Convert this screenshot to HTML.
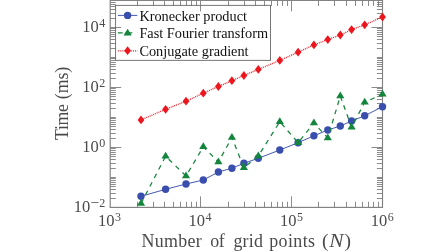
<!DOCTYPE html>
<html><head><meta charset="utf-8"><title>Timing plot</title>
<style>html,body{margin:0;padding:0;background:#fff;overflow:hidden}svg{display:block}</style>
</head><body>
<svg width="448" height="252" viewBox="0 0 448 252">
<rect width="448" height="252" fill="#fff"/>
<path d="M137.5 207.4V201.8M137.5 0.4V6.0M153.5 207.4V201.8M153.5 0.4V6.0M164.5 207.4V201.8M164.5 0.4V6.0M173.5 207.4V201.8M173.5 0.4V6.0M180.5 207.4V201.8M180.5 0.4V6.0M186.5 207.4V201.8M186.5 0.4V6.0M191.5 207.4V201.8M191.5 0.4V6.0M196.5 207.4V201.8M196.5 0.4V6.0M200.5 207.4V196.4M200.5 0.4V11.4M228.5 207.4V201.8M228.5 0.4V6.0M244.5 207.4V201.8M244.5 0.4V6.0M255.5 207.4V201.8M255.5 0.4V6.0M264.5 207.4V201.8M264.5 0.4V6.0M271.5 207.4V201.8M271.5 0.4V6.0M277.5 207.4V201.8M277.5 0.4V6.0M282.5 207.4V201.8M282.5 0.4V6.0M287.5 207.4V201.8M287.5 0.4V6.0M291.5 207.4V196.4M291.5 0.4V11.4M318.5 207.4V201.8M318.5 0.4V6.0M334.5 207.4V201.8M334.5 0.4V6.0M346.5 207.4V201.8M346.5 0.4V6.0M355.5 207.4V201.8M355.5 0.4V6.0M362.5 207.4V201.8M362.5 0.4V6.0M368.5 207.4V201.8M368.5 0.4V6.0M373.5 207.4V201.8M373.5 0.4V6.0M378.5 207.4V201.8M378.5 0.4V6.0M110.2 198.5H115.8M382.5 198.5H376.9M110.2 193.5H115.8M382.5 193.5H376.9M110.2 189.5H115.8M382.5 189.5H376.9M110.2 186.5H115.8M382.5 186.5H376.9M110.2 184.5H115.8M382.5 184.5H376.9M110.2 182.5H115.8M382.5 182.5H376.9M110.2 180.5H115.8M382.5 180.5H376.9M110.2 178.5H115.8M382.5 178.5H376.9M110.2 177.5H115.8M382.5 177.5H376.9M110.2 168.5H115.8M382.5 168.5H376.9M110.2 163.5H115.8M382.5 163.5H376.9M110.2 159.5H115.8M382.5 159.5H376.9M110.2 156.5H115.8M382.5 156.5H376.9M110.2 154.5H115.8M382.5 154.5H376.9M110.2 152.5H115.8M382.5 152.5H376.9M110.2 150.5H115.8M382.5 150.5H376.9M110.2 148.5H115.8M382.5 148.5H376.9M110.2 147.5H121.2M382.5 147.5H371.5M110.2 138.5H115.8M382.5 138.5H376.9M110.2 133.5H115.8M382.5 133.5H376.9M110.2 129.5H115.8M382.5 129.5H376.9M110.2 126.5H115.8M382.5 126.5H376.9M110.2 124.5H115.8M382.5 124.5H376.9M110.2 122.5H115.8M382.5 122.5H376.9M110.2 120.5H115.8M382.5 120.5H376.9M110.2 118.5H115.8M382.5 118.5H376.9M110.2 117.5H115.8M382.5 117.5H376.9M110.2 108.5H115.8M382.5 108.5H376.9M110.2 103.5H115.8M382.5 103.5H376.9M110.2 99.5H115.8M382.5 99.5H376.9M110.2 96.5H115.8M382.5 96.5H376.9M110.2 94.5H115.8M382.5 94.5H376.9M110.2 92.5H115.8M382.5 92.5H376.9M110.2 90.5H115.8M382.5 90.5H376.9M110.2 88.5H115.8M382.5 88.5H376.9M110.2 87.5H121.2M382.5 87.5H371.5M110.2 78.5H115.8M382.5 78.5H376.9M110.2 73.5H115.8M382.5 73.5H376.9M110.2 69.5H115.8M382.5 69.5H376.9M110.2 66.5H115.8M382.5 66.5H376.9M110.2 64.5H115.8M382.5 64.5H376.9M110.2 62.5H115.8M382.5 62.5H376.9M110.2 60.5H115.8M382.5 60.5H376.9M110.2 58.5H115.8M382.5 58.5H376.9M110.2 57.5H115.8M382.5 57.5H376.9M110.2 48.5H115.8M382.5 48.5H376.9M110.2 43.5H115.8M382.5 43.5H376.9M110.2 39.5H115.8M382.5 39.5H376.9M110.2 36.5H115.8M382.5 36.5H376.9M110.2 34.5H115.8M382.5 34.5H376.9M110.2 32.5H115.8M382.5 32.5H376.9M110.2 30.5H115.8M382.5 30.5H376.9M110.2 28.5H115.8M382.5 28.5H376.9M110.2 27.5H121.2M382.5 27.5H371.5M110.2 18.5H115.8M382.5 18.5H376.9M110.2 13.5H115.8M382.5 13.5H376.9M110.2 9.5H115.8M382.5 9.5H376.9M110.2 6.5H115.8M382.5 6.5H376.9M110.2 4.5H115.8M382.5 4.5H376.9M110.2 2.5H115.8M382.5 2.5H376.9" stroke="#646464" stroke-width="0.75" fill="none"/>
<rect x="110.2" y="0.4" width="272.3" height="207.0" fill="none" stroke="#808080" stroke-width="1.15"/>
<polyline points="141.0,196.3 165.6,189.3 186.0,184.0 203.3,180.0 218.4,172.0 231.9,168.2 243.9,163.3 258.3,158.3 279.8,150.0 298.1,142.7 313.9,135.8 327.8,130.0 340.3,126.0 351.6,121.0 364.7,115.7 382.5,106.7" fill="none" stroke="#3a4fad" stroke-width="0.95"/>
<circle cx="141.0" cy="196.3" r="3.7" fill="#3a4fad"/>
<circle cx="165.6" cy="189.3" r="3.7" fill="#3a4fad"/>
<circle cx="186.0" cy="184.0" r="3.7" fill="#3a4fad"/>
<circle cx="203.3" cy="180.0" r="3.7" fill="#3a4fad"/>
<circle cx="218.4" cy="172.0" r="3.7" fill="#3a4fad"/>
<circle cx="231.9" cy="168.2" r="3.7" fill="#3a4fad"/>
<circle cx="243.9" cy="163.3" r="3.7" fill="#3a4fad"/>
<circle cx="258.3" cy="158.3" r="3.7" fill="#3a4fad"/>
<circle cx="279.8" cy="150.0" r="3.7" fill="#3a4fad"/>
<circle cx="298.1" cy="142.7" r="3.7" fill="#3a4fad"/>
<circle cx="313.9" cy="135.8" r="3.7" fill="#3a4fad"/>
<circle cx="327.8" cy="130.0" r="3.7" fill="#3a4fad"/>
<circle cx="340.3" cy="126.0" r="3.7" fill="#3a4fad"/>
<circle cx="351.6" cy="121.0" r="3.7" fill="#3a4fad"/>
<circle cx="364.7" cy="115.7" r="3.7" fill="#3a4fad"/>
<circle cx="382.5" cy="106.7" r="3.7" fill="#3a4fad"/>
<polyline points="141.0,203.5 165.6,156.2 186.0,176.0 203.3,146.7 218.4,162.0 231.9,137.5 243.9,167.7 258.3,156.0 279.8,121.7 298.1,142.7 313.9,123.0 327.8,138.0 340.3,96.0 351.6,127.2 364.7,102.2 382.5,94.3" fill="none" stroke="#13853d" stroke-width="1.25" stroke-dasharray="4.8 4.8"/>
<path d="M141.0 199.0L145.1 205.8H136.9Z" fill="#13853d"/>
<path d="M165.6 151.7L169.7 158.5H161.5Z" fill="#13853d"/>
<path d="M186.0 171.5L190.1 178.3H181.9Z" fill="#13853d"/>
<path d="M203.3 142.2L207.4 149.0H199.2Z" fill="#13853d"/>
<path d="M218.4 157.5L222.5 164.3H214.3Z" fill="#13853d"/>
<path d="M231.9 133.0L236.0 139.8H227.8Z" fill="#13853d"/>
<path d="M243.9 163.2L248.0 170.0H239.8Z" fill="#13853d"/>
<path d="M258.3 151.5L262.4 158.3H254.2Z" fill="#13853d"/>
<path d="M279.8 117.2L283.9 124.0H275.7Z" fill="#13853d"/>
<path d="M298.1 138.2L302.2 145.0H294.0Z" fill="#13853d"/>
<path d="M313.9 118.5L318.0 125.3H309.8Z" fill="#13853d"/>
<path d="M327.8 133.5L331.9 140.3H323.7Z" fill="#13853d"/>
<path d="M340.3 91.5L344.4 98.3H336.2Z" fill="#13853d"/>
<path d="M351.6 122.7L355.7 129.5H347.5Z" fill="#13853d"/>
<path d="M364.7 97.7L368.8 104.5H360.6Z" fill="#13853d"/>
<path d="M382.5 89.8L386.6 96.6H378.4Z" fill="#13853d"/>
<polyline points="141.0,119.9 165.6,109.3 186.0,101.2 203.3,93.2 218.4,86.5 231.9,80.7 243.9,75.5 258.3,69.4 279.8,60.4 298.1,52.2 313.9,44.9 327.8,39.6 340.3,35.0 351.6,29.6 364.7,24.8 382.5,17.0" fill="none" stroke="#ec161e" stroke-width="1.3" stroke-dasharray="0.95 0.95"/>
<path d="M141.0 115.5L144.4 119.9L141.0 124.3L137.6 119.9Z" fill="#ec161e"/>
<path d="M165.6 104.9L169.0 109.3L165.6 113.7L162.2 109.3Z" fill="#ec161e"/>
<path d="M186.0 96.8L189.4 101.2L186.0 105.6L182.6 101.2Z" fill="#ec161e"/>
<path d="M203.3 88.8L206.7 93.2L203.3 97.6L199.9 93.2Z" fill="#ec161e"/>
<path d="M218.4 82.1L221.8 86.5L218.4 90.9L215.0 86.5Z" fill="#ec161e"/>
<path d="M231.9 76.3L235.3 80.7L231.9 85.1L228.5 80.7Z" fill="#ec161e"/>
<path d="M243.9 71.1L247.3 75.5L243.9 79.9L240.5 75.5Z" fill="#ec161e"/>
<path d="M258.3 65.0L261.7 69.4L258.3 73.8L254.9 69.4Z" fill="#ec161e"/>
<path d="M279.8 56.0L283.2 60.4L279.8 64.8L276.4 60.4Z" fill="#ec161e"/>
<path d="M298.1 47.8L301.5 52.2L298.1 56.6L294.7 52.2Z" fill="#ec161e"/>
<path d="M313.9 40.5L317.3 44.9L313.9 49.3L310.5 44.9Z" fill="#ec161e"/>
<path d="M327.8 35.2L331.2 39.6L327.8 44.0L324.4 39.6Z" fill="#ec161e"/>
<path d="M340.3 30.6L343.7 35.0L340.3 39.4L336.9 35.0Z" fill="#ec161e"/>
<path d="M351.6 25.2L355.0 29.6L351.6 34.0L348.2 29.6Z" fill="#ec161e"/>
<path d="M364.7 20.4L368.1 24.8L364.7 29.2L361.3 24.8Z" fill="#ec161e"/>
<path d="M382.5 12.6L385.9 17.0L382.5 21.4L379.1 17.0Z" fill="#ec161e"/>
<rect x="115.6" y="5.35" width="154.95" height="55.0" fill="none" stroke="#686868" stroke-width="0.9"/>
<path d="M117.9 15.4H137.3" stroke="#3a4fad" stroke-width="0.95"/><circle cx="127.6" cy="15.4" r="3.7" fill="#3a4fad"/>
<path d="M117.9 32.9H137.3" stroke="#13853d" stroke-width="1.25" stroke-dasharray="4.8 4.8"/><path d="M127.6 28.7L131.7 35.5H123.5Z" fill="#13853d"/>
<path d="M117.9 50.8H137.3" stroke="#ec161e" stroke-width="1.3" stroke-dasharray="0.95 0.95"/><path d="M127.6 46.3L131.0 50.7L127.6 55.1L124.2 50.7Z" fill="#ec161e"/>
<text x="139.4" y="20.9" font-family="Liberation Serif, serif" font-size="14.3" fill="#111">Kronecker product</text>
<text x="139.4" y="38.4" font-family="Liberation Serif, serif" font-size="14.3" fill="#111">Fast Fourier transform</text>
<text x="139.4" y="55.9" font-family="Liberation Serif, serif" font-size="14.3" fill="#111">Conjugate gradient</text>
<text x="121" y="226.20" font-family="Liberation Serif, serif" font-size="16.5" fill="#4a4a4a" text-anchor="end">10<tspan font-size="12" dy="-5.4" dx="0.5">3</tspan></text>
<text x="211.6" y="226.20" font-family="Liberation Serif, serif" font-size="16.5" fill="#4a4a4a" text-anchor="end">10<tspan font-size="12" dy="-5.4" dx="0.5">4</tspan></text>
<text x="303" y="226.20" font-family="Liberation Serif, serif" font-size="16.5" fill="#4a4a4a" text-anchor="end">10<tspan font-size="12" dy="-5.4" dx="0.5">5</tspan></text>
<text x="393.7" y="226.20" font-family="Liberation Serif, serif" font-size="16.5" fill="#4a4a4a" text-anchor="end">10<tspan font-size="12" dy="-5.4" dx="0.5">6</tspan></text>
<text x="105.2" y="211.90" font-family="Liberation Serif, serif" font-size="16.5" fill="#4a4a4a" text-anchor="end">10<tspan font-size="15.5" dy="-3.8" dx="0.1">−</tspan><tspan font-size="12" dy="-1.6">2</tspan></text>
<text x="105.2" y="151.90" font-family="Liberation Serif, serif" font-size="16.5" fill="#4a4a4a" text-anchor="end">10<tspan font-size="12" dy="-5.4" dx="0.5">0</tspan></text>
<text x="105.2" y="91.90" font-family="Liberation Serif, serif" font-size="16.5" fill="#4a4a4a" text-anchor="end">10<tspan font-size="12" dy="-5.4" dx="0.5">2</tspan></text>
<text x="105.2" y="31.90" font-family="Liberation Serif, serif" font-size="16.5" fill="#4a4a4a" text-anchor="end">10<tspan font-size="12" dy="-5.4" dx="0.5">4</tspan></text>
<text y="246.6" font-family="Liberation Serif, serif" font-size="17.9" fill="#4a4a4a" lengthAdjust="spacingAndGlyphs"><tspan x="141.6" textLength="60">Number</tspan><tspan x="210.2" textLength="14.6">of</tspan><tspan x="233.4" textLength="29.6">grid</tspan><tspan x="269.2" textLength="45.8">points</tspan><tspan x="321.9" font-size="19.5">(</tspan><tspan x="329.3" textLength="14.3" lengthAdjust="spacingAndGlyphs" font-style="italic">N</tspan><tspan x="344.6" font-size="19.5">)</tspan></text>
<text transform="translate(68.4 0) rotate(-90)" y="0" font-family="Liberation Serif, serif" font-size="17.9" fill="#4a4a4a" lengthAdjust="spacingAndGlyphs"><tspan x="-140" textLength="36">Time</tspan><tspan x="-99.2" textLength="32.4">(ms)</tspan></text>
</svg>
</body></html>
